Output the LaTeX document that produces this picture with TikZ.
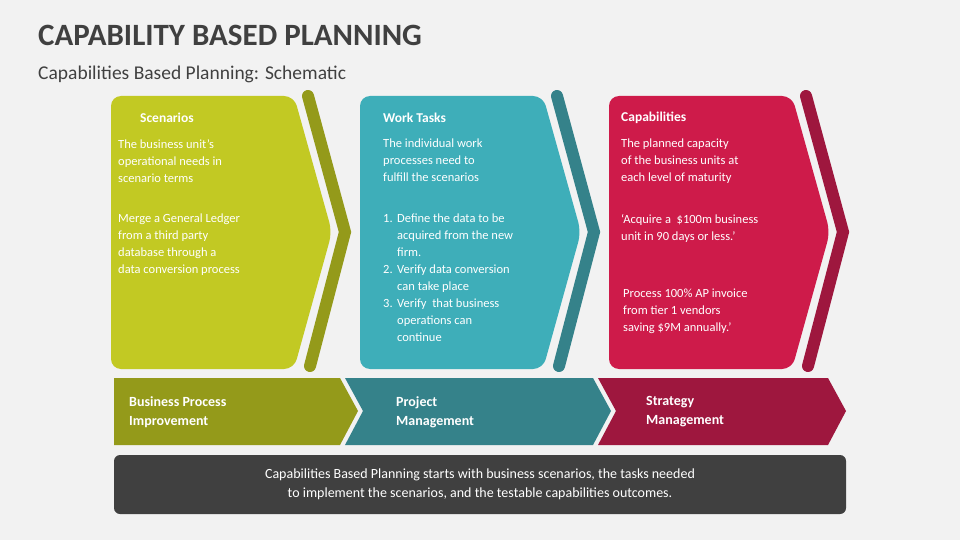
\documentclass[tikz,border=0pt]{standalone}
\usepackage{fontspec}
\setmainfont{Carlito}
\begin{document}
\begin{tikzpicture}[x=1pt,y=-1pt,
  body/.style={anchor=north west,align=left,text=white,font=\fontsize{12.5}{17}\selectfont,inner sep=0pt},
  head/.style={anchor=west,text=white,font=\fontsize{13.5}{16}\selectfont\bfseries,inner sep=0pt},
  arrtxt/.style={anchor=west,align=left,text=white,font=\fontsize{14}{19}\selectfont\bfseries,inner sep=0pt},
  stripe/.style={line width=12pt,line cap=round,line join=miter}]
\definecolor{bg}{HTML}{F2F2F2}
\definecolor{gA}{HTML}{C2C923}\definecolor{gB}{HTML}{949A1A}
\definecolor{tA}{HTML}{3EAEB9}\definecolor{tB}{HTML}{35828A}
\definecolor{rA}{HTML}{CE1B4A}\definecolor{rB}{HTML}{9E173E}
\definecolor{dk}{HTML}{404040}
\fill[bg] (0,0) rectangle (960,540);
\useasboundingbox (0,0) rectangle (960,540);
\node[anchor=west,inner sep=0pt,font=\fontsize{31}{34}\selectfont\bfseries,text=dk] (title) at (38,35) {CAPABILITY BASED PLANNING};
\node[anchor=west,inner sep=0pt,font=\fontsize{19.5}{22}\selectfont,text=dk] (sub) at (38,74) {Capabilities Based Planning: Schematic};
% panels
\foreach \x/\ca/\cb in {0/gA/gB,249/tA/tB,498/rA/rB}{
  \fill[\ca,rounded corners=10pt] (111+\x,96) -- (294+\x,96) -- (332+\x,232) -- (294+\x,369) -- (111+\x,369) -- cycle;
  \draw[\cb,stripe] (308+\x,96) -- (345+\x,232) -- (310+\x,366);
}
% bottom arrows
\fill[gB] (114,378) -- (340,378) -- (358,411) -- (340,445) -- (114,445) -- cycle;
\fill[tB] (345,378) -- (593,378) -- (611,411) -- (593,445) -- (345,445) -- (363,411) -- cycle;
\fill[rB] (598,378) -- (828,378) -- (846,411) -- (828,445) -- (598,445) -- (616,411) -- cycle;
\node[arrtxt] (a1) at (129,412) {Business Process\\Improvement};
\node[arrtxt] (a2) at (396,412) {Project\\Management};
\node[arrtxt] (a3) at (646,412) {Strategy\\Management};
% footer
\fill[dk,rounded corners=6pt] (114,455) rectangle (846,514);
\node[align=center,text=white,font=\fontsize{14}{19}\selectfont,inner sep=0pt] (foot) at (480,484) {Capabilities Based Planning starts with business scenarios, the tasks needed\\to implement the scenarios, and the testable capabilities outcomes.};
% panel texts
\node[head] (h1) at (140,118) {Scenarios};
\node[body] (b1) at (118,139) {The business unit’s\\operational needs in\\scenario terms};
\node[body] (b1b) at (118,214) {Merge a General Ledger\\from a third party\\database through a\\data conversion process};
\node[head] (h2) at (383,118) {Work Tasks};
\node[body] (b2) at (383,139) {The individual work\\processes need to\\fulfill the scenarios};
\node[body] (b2b) at (383,214) {1.\\[34pt]2.\\[17pt]3.};
\node[body] (b2c) at (397,214) {Define the data to be\\acquired from the new\\firm.\\Verify data conversion\\can take place\\Verify\ \ that business\\operations can\\continue};
\node[head] (h3) at (621,118) {Capabilities};
\node[body] (b3) at (621,139) {The planned capacity\\of the business units at\\each level of maturity};
\node[body] (b3b) at (621,214) {‘Acquire a\ \ \$100m business\\unit in 90 days or less.’};
\node[body] (b3c) at (623,289) {Process 100\% AP invoice\\from tier 1 vendors\\saving \$9M annually.’};
\end{tikzpicture}
\end{document}
